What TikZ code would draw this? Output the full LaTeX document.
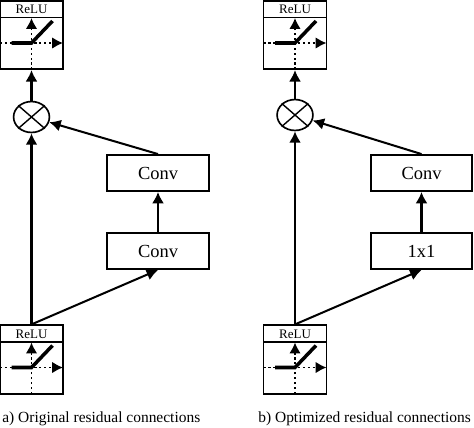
\documentclass[tikz,border=0pt]{standalone}
\usepackage{fontspec}
\setmainfont{Liberation Serif}
\usetikzlibrary{arrows.meta,positioning,shapes.geometric}
\tikzset{
  convbox/.style={draw,line width=0.95pt,minimum width=57.8pt,minimum height=20.6pt,inner sep=0pt,font=\fontsize{10.5}{12}\selectfont},
  mulnode/.style={draw,line width=0.95pt,ellipse,minimum width=20.4pt,minimum height=17.6pt,inner sep=0pt},
  flow/.style={->,line width=1.15pt},
  caption/.style={font=\fontsize{8.8}{10}\selectfont,anchor=west,inner sep=0pt},
  relubox/.style={draw,line width=0.95pt,minimum width=35.7pt,minimum height=39pt,inner sep=0pt},
  relutitle/.style={font=\fontsize{7.4}{8}\selectfont,inner sep=0pt},
  axisline/.style={line width=1pt,dash pattern=on 1.2pt off 1.6pt,-{Latex[length=6.2pt,width=6.6pt]}},
  pics/relu/.style={code={
      \node[relubox] (-box) at (0,0) {};
      \draw[line width=0.8pt] (-31.5,17.5) -- (31.5,17.5);
      \node[relutitle] (-title) at (0,25.5) {ReLU};
      \draw[axisline] (-31.5,-8) -- (31.5,-8);
      \draw[axisline] (0,-34.5) -- (0,17);
      \draw[line width=2pt] (-20,-8) -- (0,-8) -- (21,14);
    }}
}
\begin{document}
\begin{tikzpicture}[x=0.02cm,y=0.02cm,>={Latex[length=6.5pt,width=6.8pt]}]
  \useasboundingbox (0,0) rectangle (474,-427);
  % left
  \pic (reluAin) at (31.5,-359.5) {relu};
  \pic (reluAout) at (31.5,-35) {relu};
  \node[mulnode] (mulA) at (31.5,-117) {};
  \draw[line width=0.8pt] (mulA.north west)--(mulA.south east) (mulA.north east)--(mulA.south west);
  \node[convbox] (convAb) at (158,-251) {Conv};
  \node[convbox] (convAt) at (158,-173) {Conv};
  \draw[flow] (reluAin-box.north) -- (mulA);
  \draw[flow] (reluAin-box.north) -- (convAb.south);
  \draw[flow] (convAb) -- (convAt);
  \draw[flow] (convAt.north) -- (mulA);
  \draw[flow] (mulA) -- (reluAout-box);
  \node[caption] (capA) at (2,-419) {a) Original residual connections};
  % right
  \pic (reluBin) at (295,-359.5) {relu};
  \pic (reluBout) at (295,-35) {relu};
  \node[mulnode] (mulB) at (295,-115) {};
  \draw[line width=0.8pt] (mulB.north west)--(mulB.south east) (mulB.north east)--(mulB.south west);
  \node[convbox] (convBb) at (421.5,-251) {1x1};
  \node[convbox] (convBt) at (421.5,-173) {Conv};
  \draw[flow] (reluBin-box.north) -- (mulB);
  \draw[flow] (reluBin-box.north) -- (convBb.south);
  \draw[flow] (convBb) -- (convBt);
  \draw[flow] (convBt.north) -- (mulB);
  \draw[flow] (mulB) -- (reluBout-box);
  \node[caption] (capB) at (258,-419) {b) Optimized residual connections};
\end{tikzpicture}
\end{document}
